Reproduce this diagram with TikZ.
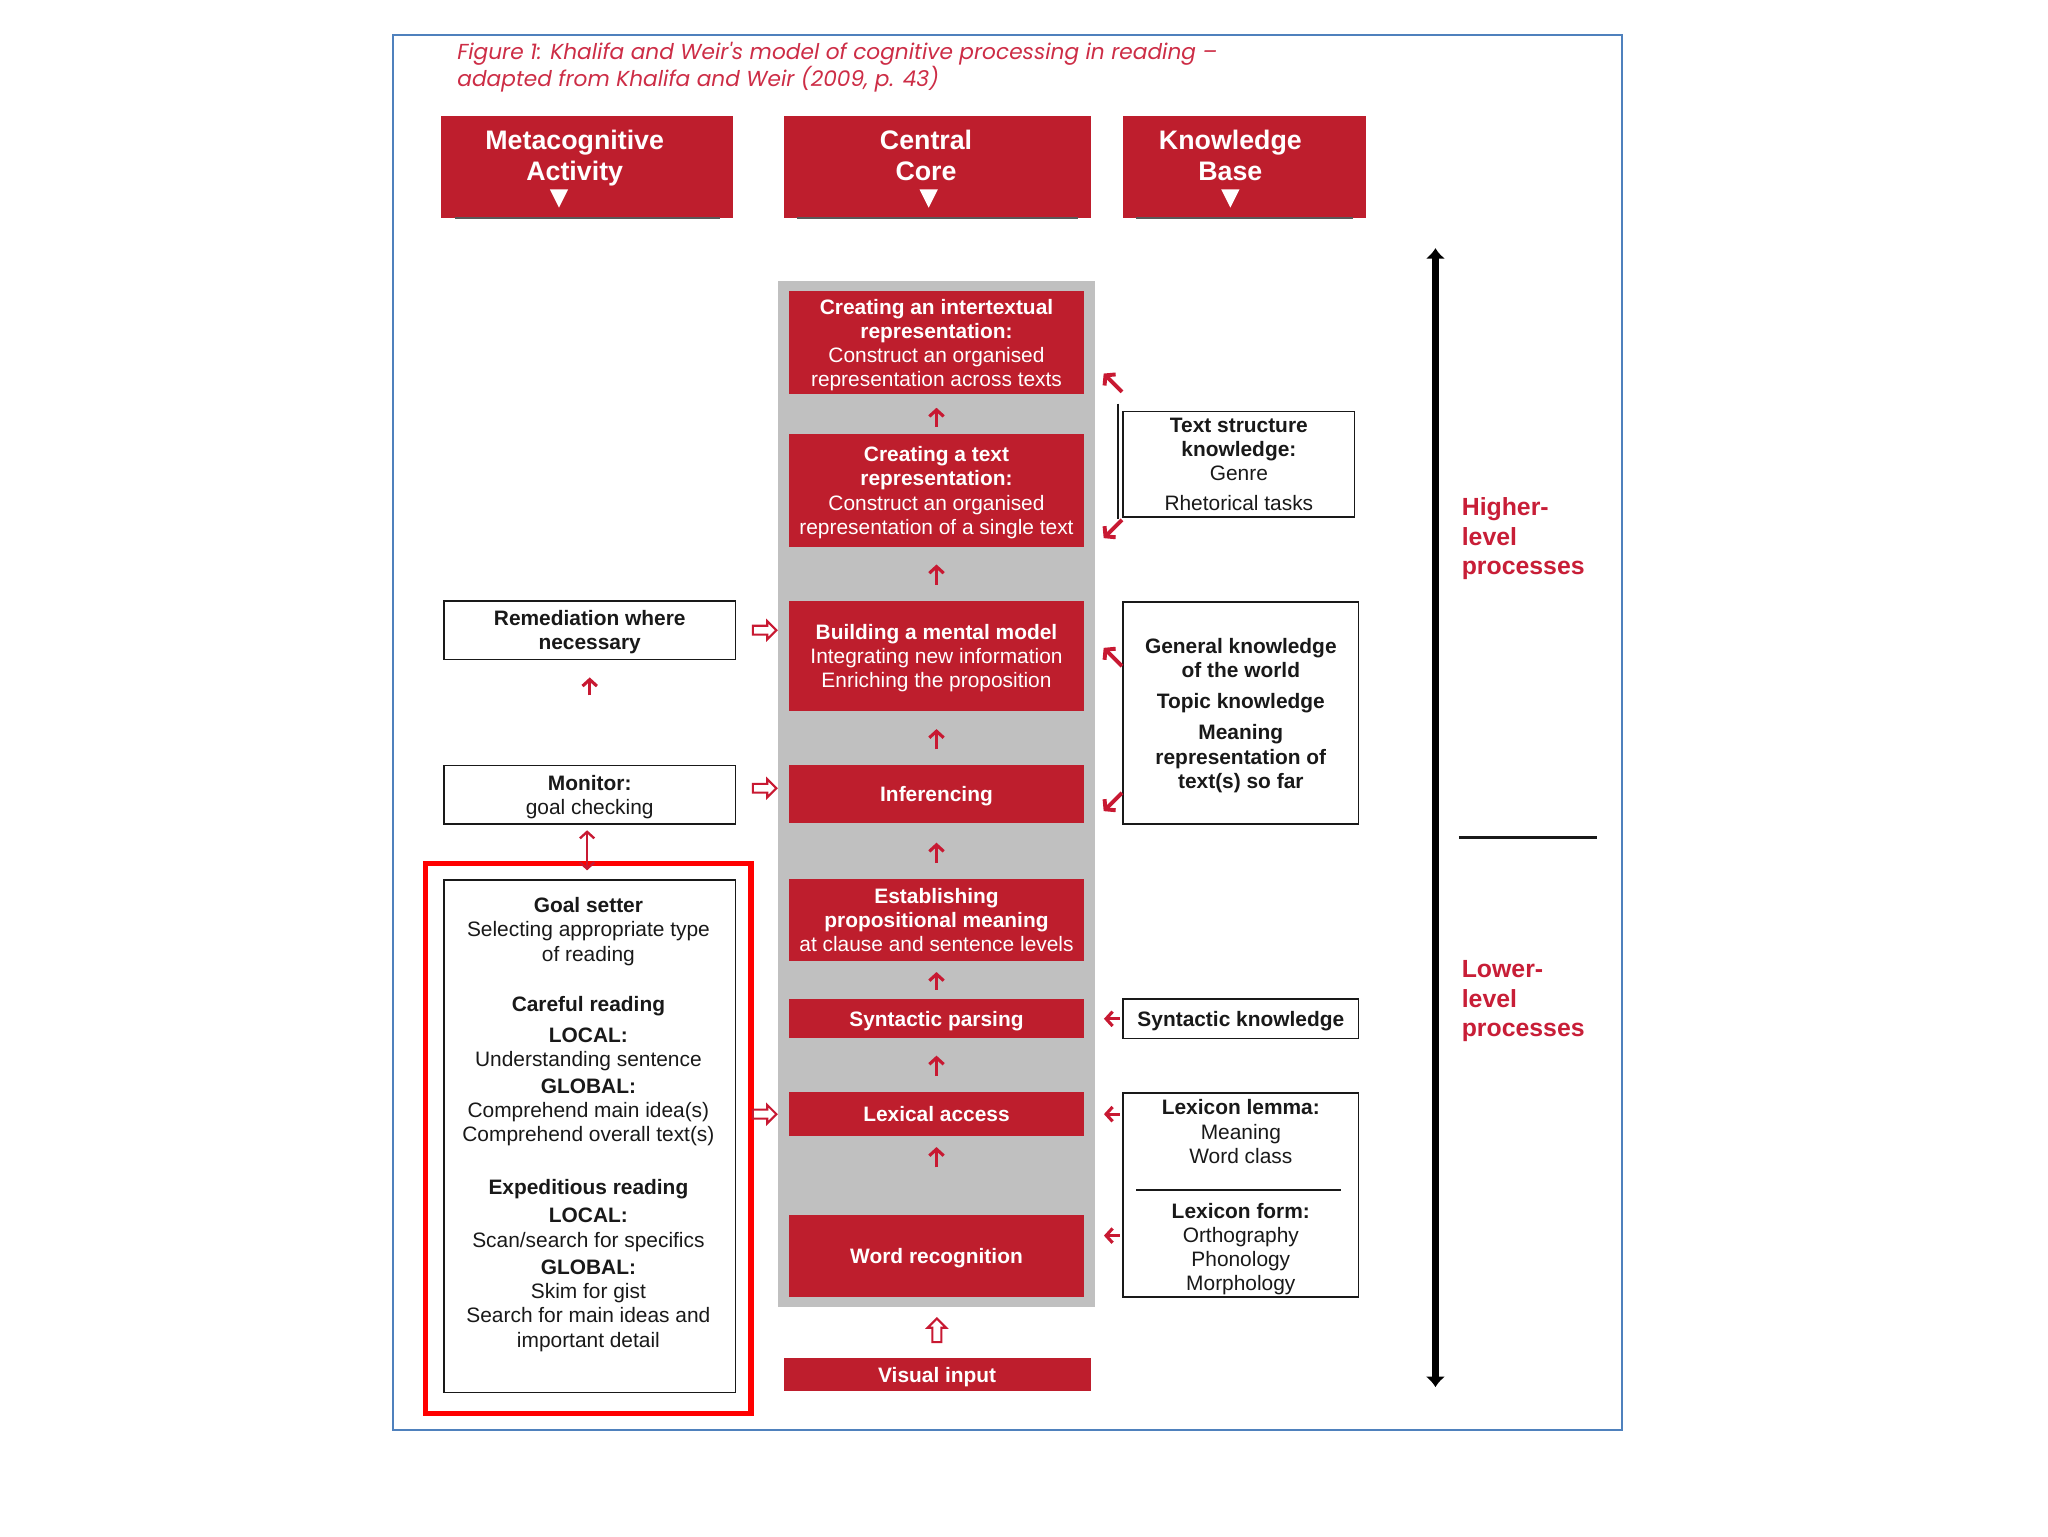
\documentclass[tikz,border=0pt]{standalone}
\usepackage{fontspec}
\setmainfont{Liberation Sans}
\newfontfamily\titlefont{Poppins}
\usetikzlibrary{arrows.meta,shapes.arrows,calc}
\definecolor{boxred}{RGB}{190,30,45}
\definecolor{arrred}{RGB}{200,25,50}
\definecolor{titlered}{RGB}{205,45,70}
\definecolor{lvlred}{RGB}{200,30,55}
\definecolor{frameblue}{RGB}{79,129,189}
\definecolor{colgray}{RGB}{192,192,192}
\definecolor{hlred}{RGB}{255,0,0}
\definecolor{inkblack}{RGB}{25,25,25}
\newcommand{\bodyfont}{\fontsize{16}{18.5}\selectfont}
\newcommand{\headfont}{\fontsize{20.5}{24}\selectfont\bfseries}
\begin{document}
\begin{tikzpicture}[x=1pt,y=-1pt,
  redbox/.style={fill=boxred, draw=none, text=white, align=center, inner sep=0pt, font=\bodyfont, text depth=0pt},
  headbox/.style={fill=boxred, draw=none, inner sep=0pt, minimum height=78pt},
  headtext/.style={text=white, align=center, inner sep=0pt, font=\headfont, text depth=0pt},
  blackbox/.style={draw=inkblack, line width=1.3pt, fill=white, align=center, inner sep=0pt, font=\bodyfont, text=inkblack, text depth=0pt},
  uparr/.style={draw=arrred, line width=2.4pt, -{Straight Barb[length=5pt,width=11pt]}},
  sidearr/.style={draw=arrred, line width=2.4pt, -{Straight Barb[length=5pt,width=11pt]}},
  diagarr/.style={draw=arrred, line width=3pt, -{Straight Barb[length=5pt,width=12pt]}},
  dblarr/.style={draw=arrred, line width=1.8pt, {Straight Barb[length=5pt,width=11pt]}-{Straight Barb[length=5pt,width=11pt]}},
  harrow/.style={single arrow, draw=arrred, fill=white, line width=1.6pt, minimum height=18pt, inner sep=2.6pt, single arrow head extend=3.6pt, single arrow head indent=0pt},
  lvltext/.style={text=lvlred, align=left, anchor=west, inner sep=0pt, text depth=0pt, font=\fontsize{19}{22.5}\selectfont\bfseries}
]
\useasboundingbox (0,0) rectangle (1568,1176);
\fill[white] (0,0) rectangle (1568,1176);

% outer frame
\draw[frameblue, line width=1.8pt] (301,27) rectangle (1242,1095);

% title
\node[anchor=west, inner sep=0pt, align=left, text=titlered, font=\titlefont\itshape\fontsize{16.6}{21}\selectfont] (title) at (350,51.5)
  {Figure 1: Khalifa and Weir's model of cognitive processing in reading –\\adapted from Khalifa and Weir (2009, p. 43)};

% header boxes
\node[headbox, minimum width=223pt] (hm) at (449.5,128) {};
\node[headbox, minimum width=235pt] (hc) at (717.5,128) {};
\node[headbox, minimum width=186pt] (hk) at (953,128) {};
\node[headtext] (hmt) at (440,119) {Metacognitive\\Activity};
\node[headtext] (hct) at (709,119) {Central\\Core};
\node[headtext] (hkt) at (942,119) {Knowledge\\Base};
\fill[white] (421,145) -- (435,145) -- (428,159) -- cycle;
\fill[white] (704,145) -- (718,145) -- (711,159) -- cycle;
\fill[white] (935,145) -- (949,145) -- (942,159) -- cycle;
\draw[gray!70!black, line width=1pt] (348,167) -- (551,167);
\draw[gray!70!black, line width=1pt] (610,167) -- (825,167);
\draw[gray!70!black, line width=1pt] (870,167) -- (1036,167);

% central core column
\node[fill=colgray, draw=none, minimum width=242pt, minimum height=786pt, inner sep=0pt] (core) at (717,608) {};

\node[redbox, minimum width=226pt, minimum height=79pt] (c1) at (717,262.5)
  {\textbf{Creating an intertextual}\\\textbf{representation:}\\Construct an organised\\representation across texts};
\node[redbox, minimum width=226pt, minimum height=87pt] (c2) at (717,375.5)
  {\textbf{Creating a text}\\\textbf{representation:}\\Construct an organised\\representation of a single text};
\node[redbox, minimum width=226pt, minimum height=84pt] (c3) at (717,502)
  {\textbf{Building a mental model}\\Integrating new information\\Enriching the proposition};
\node[redbox, minimum width=226pt, minimum height=44pt] (c4) at (717,608) {\textbf{Inferencing}};
\node[redbox, minimum width=226pt, minimum height=63pt] (c5) at (717,704.5)
  {\textbf{Establishing}\\\textbf{propositional meaning}\\at clause and sentence levels};
\node[redbox, minimum width=226pt, minimum height=30pt] (c6) at (717,780) {\textbf{Syntactic parsing}};
\node[redbox, minimum width=226pt, minimum height=34pt] (c7) at (717,853) {\textbf{Lexical access}};
\node[redbox, minimum width=226pt, minimum height=63pt] (c8) at (717,961.5) {\textbf{Word recognition}};
\node[redbox, minimum width=235pt, minimum height=25pt] (vis) at (717.5,1052.5) {\textbf{Visual input}};

\draw[uparr, shorten <=5pt, shorten >=10pt] (c2.north) -- (c1.south);
\draw[uparr, shorten <=12pt, shorten >=13pt] (c3.north) -- (c2.south);
\draw[uparr, shorten <=12pt, shorten >=14pt] (c4.north) -- (c3.south);
\draw[uparr, shorten <=12pt, shorten >=15pt] (c5.north) -- (c4.south);
\draw[uparr, shorten <=7pt, shorten >=8pt] (c6.north) -- (c5.south);
\draw[uparr, shorten <=12pt, shorten >=13pt] (c7.north) -- (c6.south);
\draw[uparr, shorten <=36pt, shorten >=8pt] (c8.north) -- (c7.south);
\path (vis.north) -- (c8.south) node[harrow, rotate=90, pos=0.42] (va) {};

% left column
\node[blackbox, minimum width=223pt, minimum height=45pt] (rem) at (451.5,482.5)
  {\textbf{Remediation where}\\\textbf{necessary}};
\node[blackbox, minimum width=223pt, minimum height=45pt] (mon) at (451.5,608.5)
  {\textbf{Monitor:}\\goal checking};
\node[blackbox, minimum width=223pt, minimum height=392pt] (goal) at (451.5,870) {};
\node[anchor=north, align=center, inner sep=0pt, font=\bodyfont, text=inkblack] (goaltext) at (450.5,687)
  {\textbf{Goal setter}\\Selecting appropriate type\\of reading\\[20.5pt]
   \textbf{Careful reading}\\[4.5pt]\textbf{LOCAL:}\\Understanding sentence\\[2.5pt]
   \textbf{GLOBAL:}\\Comprehend main idea(s)\\Comprehend overall text(s)\\[21.5pt]
   \textbf{Expeditious reading}\\[3.5pt]\textbf{LOCAL:}\\Scan/search for specifics\\[2.5pt]
   \textbf{GLOBAL:}\\Skim for gist\\Search for main ideas and\\important detail};
\draw[hlred, line width=4pt] (326,661) rectangle (575,1082);

\draw[uparr, shorten <=53pt, shorten >=13pt] (mon.north -| rem.south) -- (rem.south);
\draw[dblarr, shorten <=4pt, shorten >=7pt] ([xshift=-2pt]mon.south) -- ([xshift=-2pt]goal.north);

\path (rem.east) -- (rem.east -| c3.west) node[harrow, midway] (ha1) {};
\path (mon.east) -- (mon.east -| c4.west) node[harrow, midway, yshift=5pt] (ha2) {};
\path (goal.east |- c7.west) -- (c7.west) node[harrow, midway] (ha3) {};

% right column
\node[blackbox, minimum width=177pt, minimum height=81pt] (ts) at (948.5,355.5)
  {\textbf{Text structure}\\\textbf{knowledge:}\\Genre\\[4.5pt]Rhetorical tasks};
\draw[inkblack, line width=1.2pt] (856,309) -- (856,397);
\node[blackbox, minimum width=180pt, minimum height=170pt, font=\bodyfont\bfseries] (gk) at (950,546)
  {General knowledge\\of the world\\[5.5pt]Topic knowledge\\[5.5pt]Meaning\\representation of\\text(s) so far};
\node[blackbox, minimum width=180pt, minimum height=30pt] (sk) at (950,780) {\textbf{Syntactic knowledge}};
\node[blackbox, minimum width=180pt, minimum height=156pt] (lex) at (950,915)
  {\textbf{Lexicon lemma:}\\Meaning\\Word class\\[23.5pt]\textbf{Lexicon form:}\\Orthography\\Phonology\\Morphology};
\draw[inkblack, line width=1.2pt] (870,911) -- (1027,911);

% knowledge -> core arrows
\coordinate (d1t) at (845,286); \coordinate (d1s) at (859,300);
\coordinate (d2t) at (845,412); \coordinate (d2s) at (859,398);
\coordinate (d3t) at (845,496); \coordinate (d3s) at (859,510);
\coordinate (d4t) at (845,621); \coordinate (d4s) at (859,607);
\draw[diagarr] (d1s) -- (d1t);
\draw[diagarr] (d2s) -- (d2t);
\draw[diagarr] (d3s) -- (d3t);
\draw[diagarr] (d4s) -- (d4t);
\draw[sidearr, shorten <=2pt, shorten >=15pt] (sk.west) -- (c6.east);
\draw[sidearr, shorten <=2pt, shorten >=15pt] (lex.west |- c7.east) -- (c7.east);
\coordinate (a8) at ([yshift=15.5pt]c8.east);
\draw[sidearr, shorten <=2pt, shorten >=15pt] (lex.west |- a8) -- (a8);

% level scale
\coordinate (vt) at (1099,190);
\coordinate (vb) at (1099,1062);
\draw[black, line width=5pt, {Latex[length=8pt,width=15pt]}-{Latex[length=8pt,width=15pt]}] (vb) -- (vt);
\coordinate (s1) at (1117,641);
\coordinate (s2) at (1223,641);
\draw[inkblack, line width=2pt] (s1) -- (s2);
\node[lvltext] (hi) at (1119,410.5) {Higher-\\level\\processes};
\node[lvltext] (lo) at (1119,764.5) {Lower-\\level\\processes};
\end{tikzpicture}
\end{document}
